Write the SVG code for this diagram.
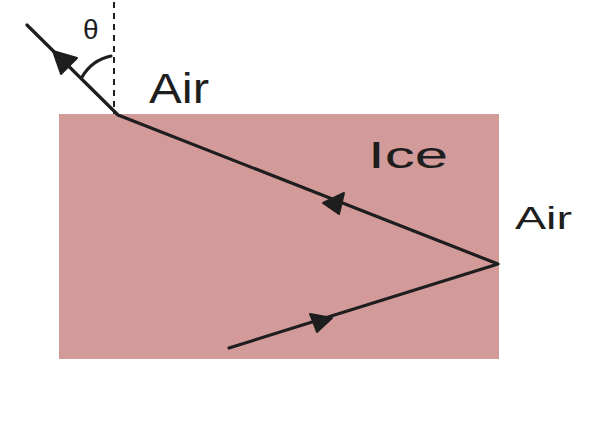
<svg xmlns="http://www.w3.org/2000/svg" width="592" height="438" viewBox="0 0 592 438">
<style>
.ray{stroke:#1e1e1e;stroke-width:3.2;fill:none;stroke-linecap:round;stroke-linejoin:round}
.lbl{font-family:"Liberation Sans",sans-serif;fill:#1e1e1e}
.head{fill:#1e1e1e;stroke:#1e1e1e;stroke-width:2;stroke-linejoin:round}
</style>
<rect width="592" height="438" fill="#ffffff"/>
<g id="ice-block">
<rect x="59" y="114" width="440" height="245" fill="#d39a9a"/>
</g>
<g id="normal">
<line x1="114" y1="2" x2="114" y2="114" stroke="#1e1e1e" stroke-width="2" stroke-dasharray="6,5"/>
</g>
<g id="connectors">
<polyline class="ray" points="229,348 498,264 118,115 27,25"/>
<path d="M82,77 Q92,60 111,56" class="ray" stroke-width="2"/>
<polygon class="head" points="332,318 310,314 317,332"/>
<polygon class="head" points="323,203 344,193 339,214"/>
<polygon class="head" points="53,51 77,58 61,74"/>
</g>
<g id="labels">
<text class="lbl" x="83" y="39" font-size="28">θ</text>
<text class="lbl" x="149" y="103" font-size="42" textLength="60" lengthAdjust="spacingAndGlyphs">Air</text>
<text class="lbl" x="368" y="168" font-size="36" textLength="80" lengthAdjust="spacingAndGlyphs">Ice</text>
<text class="lbl" x="515" y="229" font-size="32" textLength="57" lengthAdjust="spacingAndGlyphs">Air</text>
</g>
</svg>
